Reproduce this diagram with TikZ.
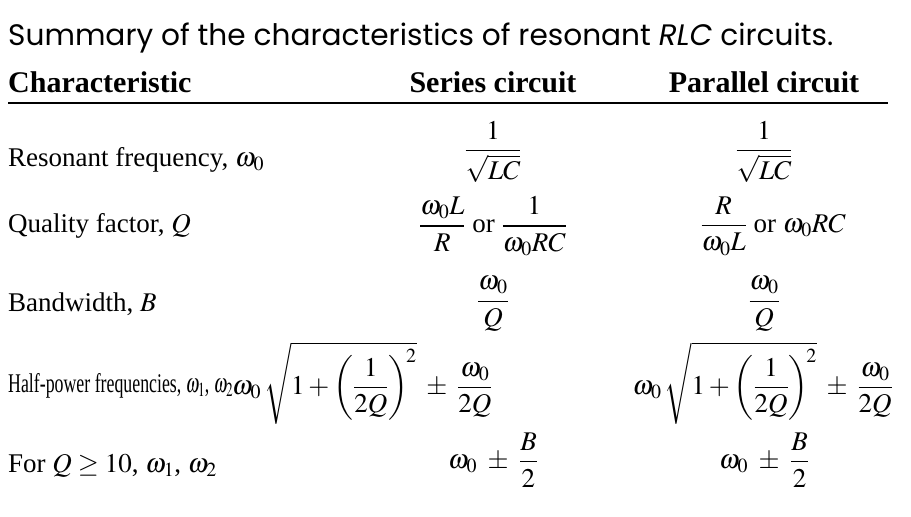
\documentclass[tikz,border=0pt]{standalone}
\usepackage{amsmath}
\usepackage{graphicx}
\usepackage{mathptmx}
\usepackage{fontspec}
\setmainfont{Liberation Serif}
\newfontfamily\titlefont{Poppins}
\begin{document}
\begin{tikzpicture}[x=1pt,y=-1pt,
  lab/.style={anchor=west,inner sep=0pt,font=\fontsize{27}{31}\selectfont},
  hd/.style={anchor=base,inner sep=0pt,font=\fontsize{30}{34}\selectfont\bfseries},
  fm/.style={inner sep=0pt,font=\fontsize{27}{31}\selectfont}]
\useasboundingbox (0,0) rectangle (911,517);
\node[anchor=base west,inner sep=0pt,font=\fontsize{29.6}{33}\titlefont] (title) at (8,45) {Summary of the characteristics of resonant \textit{RLC} circuits.};
\node[hd,anchor=base west] (h1) at (8,92) {Characteristic};
\node[hd] (h2) at (493,92) {Series circuit};
\node[hd] (h3) at (764,92) {Parallel circuit};
\coordinate (r1) at (8,103); \coordinate (r2) at (888,103);
\draw[line width=1.2pt] (r1) -- (r2);
\node[lab] (l1) at (8,160) {Resonant frequency, $\omega_0$};
\node[lab] (l2) at (8,226) {Quality factor, $Q$};
\node[lab] (l3) at (8,304) {Bandwidth, $B$};
\node[lab] (l4) at (8,386) {\scalebox{0.66}[1]{Half-power frequencies, $\omega_1$, $\omega_2$}};
\node[lab] (l5) at (8,466) {For $Q \ge 10$, $\omega_1$, $\omega_2$};
\node[fm] (s1) at (493,152) {$\dfrac{1}{\sqrt{LC}}$};
\node[fm] (p1) at (764,152) {$\dfrac{1}{\sqrt{LC}}$};
\node[fm] (s2) at (493,226) {$\dfrac{\omega_0 L}{R}$ or $\dfrac{1}{\omega_0 RC}$};
\node[fm] (p2) at (773,226) {$\dfrac{R}{\omega_0 L}$ or $\omega_0 RC$};
\node[fm] (s3) at (493,304) {$\dfrac{\omega_0}{Q}$};
\node[fm] (p3) at (764,304) {$\dfrac{\omega_0}{Q}$};
\node[fm,anchor=west] (s4) at (232,383) {$\omega_0\,\sqrt{1+\left(\dfrac{1}{2Q}\right)^{\!2}}\;\pm\;\dfrac{\omega_0}{2Q}$};
\node[fm,anchor=east] (p4) at (893,383) {$\omega_0\,\sqrt{1+\left(\dfrac{1}{2Q}\right)^{\!2}}\;\pm\;\dfrac{\omega_0}{2Q}$};
\node[fm] (s5) at (493,460) {$\omega_0\ \pm\ \dfrac{B}{2}$};
\node[fm] (p5) at (764,460) {$\omega_0\ \pm\ \dfrac{B}{2}$};
\end{tikzpicture}
\end{document}
